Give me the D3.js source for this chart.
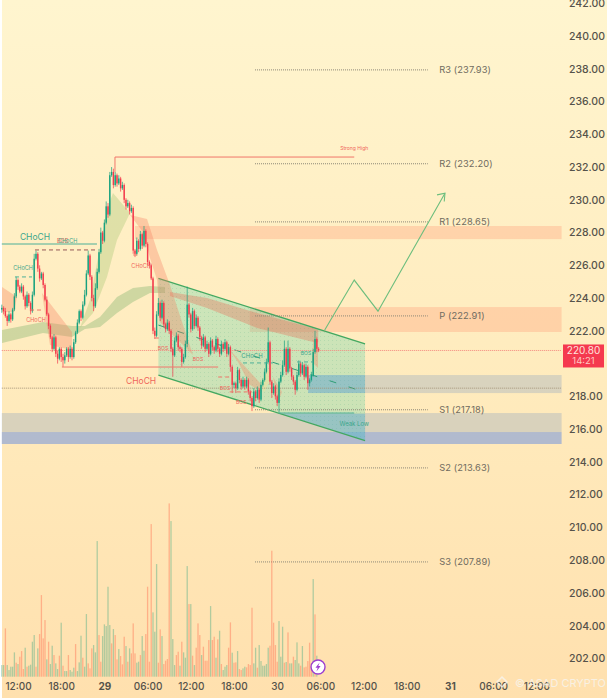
<!DOCTYPE html>
<html>
<head>
<meta charset="utf-8">
<script src="https://cdn.jsdelivr.net/npm/d3@7"></script>
<style>
  html, body { margin: 0; padding: 0; background: #fff; }
  text { font-family: Inter, "Liberation Sans", sans-serif; }
</style>
</head>
<body>
<svg id="chart" width="611" height="700"></svg>
<script>
const WIDTH = 611;
const HEIGHT = 700;

// time is in hours after 12:00 on the 28th, bars are 15 minutes apart
const FIRST_BAR_HOUR = -2.25;
const BAR_HOURS = 0.25;

// 220.00 sits behind the live price tag in the picture
const priceTicks = d3.range(202, 243, 2).filter(d => d !== 220);
const timeTicks = [0, 6, 12, 18, 24, 30, 36, 42, 48, 54, 60, 66, 72];
const timeLabels = ['12:00', '18:00', '29', '06:00', '12:00', '18:00', '30', '06:00', '12:00', '18:00', '31', '06:00', '12:00'];
const boldTimeLabels = ['29', '31'];

const firstOpen = 223.3;
const closes = [
  223.4, 223.2, 222.9, 222.6, 223.0, 222.7, 223.3, 224.1, 225.1, 224.7,
  224.4, 224.7, 224.1, 223.5, 224.2, 223.7, 223.2, 224.2, 226.4, 226.7,
  225.8, 225.2, 225.5, 224.8, 223.9, 223.0, 222.3, 221.6, 220.9, 221.6,
  220.6, 220.3, 220.9, 220.4, 220.2, 220.5, 220.9, 220.4, 220.9, 220.4,
  221.3, 221.9, 222.5, 223.2, 222.8, 223.6, 224.2, 225.5, 226.6, 225.3,
  224.0, 223.5, 224.6, 225.6, 226.8, 228.0, 227.5, 228.6, 229.6, 229.1,
  231.5, 231.7, 230.9, 231.5, 231.0, 231.3, 230.7, 230.9, 230.0, 229.6,
  229.8, 229.3, 229.5, 226.9, 226.7, 227.5, 227.0, 227.9, 227.2, 228.1,
  227.3, 226.2, 226.0, 225.2, 222.0, 221.7, 223.0, 223.7, 222.8, 223.7,
  222.4, 222.1, 222.5, 222.0, 220.9, 220.5, 221.4, 221.7, 221.0, 220.9,
  220.1, 220.4, 221.2, 223.6, 223.0, 222.1, 223.2, 222.3, 222.8, 222.2,
  221.6, 221.1, 221.6, 220.9, 221.2, 220.6, 221.4, 221.0, 220.8, 221.5,
  220.9, 220.6, 221.2, 220.9, 221.3, 220.6, 221.0, 219.8, 218.7, 218.8,
  218.5, 219.6, 219.0, 218.6, 219.0, 218.6, 219.0, 218.3, 217.9, 217.4,
  218.3, 217.9, 218.4, 217.8, 218.7, 219.0, 219.5, 220.1, 221.3, 218.9,
  218.2, 218.6, 218.0, 217.6, 218.9, 219.3, 219.9, 220.9, 219.5, 220.9,
  219.7, 219.2, 218.9, 218.4, 219.3, 220.0, 219.4, 219.9, 219.2, 219.8,
  218.8, 219.0, 219.3, 220.7, 221.5, 220.9, 220.8
];
const wickUp = [
  .2, .1, .2, .1, .2, .1, .1, .2, .2, .1,
  .1, .2, .1, .1, .2, .1, .1, .2, .3, .2,
  .1, .2, .1, .1, .1, .2, .1, .1, .1, .2,
  .1, .2, .1, .1, .2, .2, .1, .1, .2, .1,
  .2, .1, .2, .1, .1, .2, .3, .2, .3, .1,
  .1, .2, .3, .2, .2, .3, .1, .2, .3, .2,
  .2, .3, .2, .2, .1, .2, .1, .2, .1, .1,
  .2, .1, .2, .1, .1, .2, .1, .2, .1, .3,
  .1, .1, .1, .1, .1, .2, .2, .3, .1, .2,
  .1, .1, .2, .1, .1, .1, .2, .2, .1, .1,
  .1, .2, .2, 1.1, .1, .1, .2, .1, .2, .1,
  .1, .1, .2, .1, .2, .1, .2, .1, .1, .2,
  .1, .1, .2, .1, .2, .1, .2, .1, .1, .1,
  .1, .2, .1, .1, .2, .1, .2, .1, .1, .1,
  .2, .1, .2, .1, .2, .1, .2, .2, .9, .1,
  .1, .2, .1, .1, .2, .2, .3, .5, .1, .5,
  .1, .1, .1, .1, .2, .2, .1, .2, .1, .2,
  .1, .1, .2, .2, .5, .1, .1
];
const wickDown = [
  .2, .2, .1, .3, .1, .2, .1, .1, .1, .2,
  .1, .1, .2, .2, .1, .2, .2, .1, .1, .1,
  .2, .2, .1, .2, .1, .1, .2, .1, .2, .1,
  .2, .3, .1, .3, .4, .2, .1, .3, .1, .2,
  .1, .1, .1, .1, .2, .1, .1, .1, .1, .2,
  .2, .3, .1, .1, .1, .1, .2, .1, .1, .2,
  .1, .1, .2, .1, .2, .1, .2, .1, .2, .2,
  .1, .2, .1, .2, .2, .1, .2, .1, .2, .1,
  .2, .2, .2, .1, .2, .2, .1, .1, .2, .1,
  .2, .2, .1, .2, .2, 1.3, .1, .1, .2, .2,
  .3, .1, .1, .2, .2, .2, .1, .2, .1, .2,
  .2, .2, .1, .2, .1, .2, .1, .2, .2, .1,
  .2, .2, .1, .2, .1, .2, .1, .3, .5, .2,
  .3, .1, .2, .2, .1, .2, .1, .2, .2, .3,
  .1, .2, .1, .2, .1, .1, .1, .1, .1, .2,
  .3, .1, .2, .2, .6, .1, .1, .1, .2, .1,
  .2, .2, .2, .3, .1, .1, .2, .1, .2, .1,
  .4, .2, .1, .1, .1, .2, .1
];

// positive bars are green, negative bars are red
const volumes = [
  35, 35, -145, 35, 20, 30, 30, 73, -42, 38, -60, -77, -23, 87, -30, 33, 36, 105, 125, -30,
  85, -128, -245, -115, -170, 52, -105, 38, 93, -65, 40, 23, -63, 162, -33, 17, 17, -65, 20, 15,
  27, -98, 17, 43, 123, -57, 30, 188, -40, -25, -85, 95, 73, 407, -125, -45, 122, 157, 152, 270,
  155, -100, 143, -125, -52, 83, -62, -37, -120, 92, -45, 85, -70, -160, -70, 42, 45, -65, 122, 78,
  -128, -270, -45, -458, 193, 135, 338, -42, -142, 122, -38, -48, -53, -520, 467, 113, 35, -65, -75, 33,
  -105, 73, 57, 332, -218, 218, -63, 35, -87, -160, -125, 65, -90, -48, -48, -110, 212, -110, -120, 57,
  -112, 138, -38, 20, 30, 35, -87, -163, 72, -42, -43, 77, -23, -20, 25, 30, -28, -38, -35, -207,
  40, 87, -27, 95, 47, 33, 33, 38, 87, -93, -378, -162, -95, -45, 167, 60, 150, -42, 44, -133,
  40, 40, -60, 50, 103, 40, -33, 92, -28, -30, -47, -102, -40, 293, -187, 63
];

const lastPrice = 220.80;
const countdown = '14:21';
const refLevel = 218.5;

const pivots = [
  ['R3 (237.93)', 237.93], ['R2 (232.20)', 232.20], ['R1 (228.65)', 228.65], ['P (222.91)', 222.91],
  ['S1 (217.18)', 217.18], ['S2 (213.63)', 213.63], ['S3 (207.89)', 207.89]
];
const pivotHours = [32.92, 56.92];
const pivotLabelHour = 58.5;

// zones as [from hour, to hour, top price, bottom price, kind]
const zones = [
  [16.25, 75.5, 228.4, 227.6, 'supply'],
  [32.2, 75.5, 223.45, 221.93, 'supply'],
  [40.3, 75.5, 219.3, 218.2, 'neutral'],
  [-2.25, 75.5, 216.98, 215.82, 'neutral'],
  [-2.25, 75.5, 215.82, 215.09, 'blue']
];

const channelTop = [[19.5, 225.2], [48.2, 221.2]];
const channelBottom = [[19.5, 219.3], [48.2, 215.3]];
const channelMid = [[19.5, 222.35], [48.2, 218.25]];
const channelBlueBox = [[40.3, 219.3], [48.2, 219.3], [48.2, 218.2], [40.3, 218.2]];
const channelBlueWedge = [[36.4, 216.92], [48.2, 216.92], [48.2, 215.3]];

const projection = [[42.6, 222.05], [46.7, 225.1], [50, 223.2], [59.3, 230.4]];
const arrowHead = [[58.2, 230.3], [59.3, 230.4], [59.2, 229.9]];

const ribbonGreen = [
  [-2.22, 222.05], [3.47, 222.54], [7.5, 222.3], [9.3, 222.3], [11.39, 222.84], [13.75, 224.07], [15.97, 224.62], [18.33, 224.74], [20.42, 224.68],
  [20.42, 224.31], [18.33, 224.31], [15.97, 223.76], [13.75, 223.09], [11.39, 222.23], [9.3, 222.11], [7.5, 221.62], [3.47, 221.87], [-2.22, 221.26]
];
const ribbonRed = [
  [21.1, 224.37], [26.25, 224], [33.2, 223.09], [41, 222.17], [41.7, 222.05],
  [41.7, 221.3], [41, 221.32], [33.2, 222.17], [26.25, 223.39], [21.1, 224.13]
];
const cloudGreen = [
  [8.6, 222.17], [10, 223.88], [10.97, 226.14], [12.36, 229.38], [13.19, 230.42], [15.56, 229.19],
  [13.75, 227.55], [12.36, 225.29], [10.42, 223.09]
];
const cloudsRed = [
  [[15.56, 229.07], [17.92, 228.83], [19.31, 226.94], [21.11, 224.8], [22.92, 222.36], [24.31, 220.53], [21.8, 221.6], [19.72, 222.54], [19.31, 225.1], [18.33, 226.45], [17.36, 228.03]],
  [[-2.22, 224.68], [-0.14, 224.07], [-0.56, 223.15], [-2.22, 223.15]],
  [[3.33, 224.31], [7.5, 221.93], [7.5, 220.83], [4.44, 221.14], [3.89, 222.66]],
  [[29.17, 220.95], [33.61, 218.82], [33.9, 218.27], [32.2, 218.7], [30.56, 220.1]],
  [[35.42, 219.18], [36.67, 218.27], [36.1, 217.65]],
  [[41, 221.44], [41.67, 221.44], [41.67, 219.73], [40.83, 220.1]]
];
const cloudPale = [[33.61, 218.82], [35.42, 220.04], [35, 219], [34.17, 218.27]];

// structure lines as [points, colour kind, dashed]
const structureLines = [
  [[[-2.25, 227.3], [10.97, 227.3]], 'teal', false],
  [[[2.36, 226.94], [10.97, 226.94]], 'teal', true],
  [[[2.36, 226.94], [10.97, 226.94]], 'red', true],
  [[[-0.42, 225.29], [1.94, 225.29]], 'teal', true],
  [[[1.67, 223.27], [3.33, 223.27]], 'red', true],
  [[[6.1, 219.79], [27.8, 219.79]], 'red', false],
  [[[13.47, 231.7], [13.47, 232.61], [46.7, 232.61]], 'red', false],
  [[[16, 226.63], [16.67, 226.63]], 'red', true],
  [[[19, 221.56], [20, 221.56]], 'red', true],
  [[[27.8, 219.18], [29.4, 219.18]], 'red', true],
  [[[29.4, 218.27], [32.5, 218.27]], 'red', true],
  [[[31.25, 220.04], [35.4, 220.04]], 'teal', true],
  [[[38.75, 220.1], [41, 220.1]], 'teal', true],
  [[[36.25, 216.98], [46.7, 216.98]], 'teal', false]
];

// notes as [text, hour, price, colour kind, font size]
const notes = [
  ['CHoCH', 2.36, 227.75, 'teal', 8.5],
  ['BOS', 6.2, 227.48, 'red', 5.5],
  ['CHoCH', 6.9, 227.46, 'teal', 5.5],
  ['CHoCH', 0.7, 225.84, 'teal', 5.5],
  ['CHoCH', 2.5, 222.66, 'red', 5.5],
  ['CHoCH', 17.1, 225.96, 'red', 5.5],
  ['CHoCH', 17.1, 218.94, 'red', 8.5],
  ['BOS', 20.14, 220.95, 'red', 5],
  ['BOS', 25, 220.28, 'red', 5],
  ['BOS', 28.75, 218.51, 'red', 5],
  ['BOS', 31, 217.66, 'red', 5],
  ['BOS', 40, 220.65, 'teal', 5],
  ['CHoCH', 32.5, 220.52, 'teal', 6],
  ['Weak Low', 46.7, 216.37, 'teal', 6],
  ['Strong High', 46.7, 233.16, 'red', 5]
];

const noteColours = { teal: '#3BA68C', red: '#F0655A' };
const lineColours = { teal: '#4DAF98', red: '#F0766A' };
const zoneColours = {
  supply: 'rgba(255, 140, 105, 0.28)',
  neutral: 'rgba(150, 170, 190, 0.36)',
  blue: 'rgba(100, 140, 225, 0.5)'
};

const x = d3.scaleLinear().domain([0, 72]).range([18, 536.4]);
const y = d3.scaleLinear().domain([202, 240]).range([658.4, 36]);
const volumeY = d3.scaleLinear().domain([0, 520]).range([676.7, 503.4]);

const svg = d3.select('#chart');
const defs = svg.append('defs');

const background = defs.append('linearGradient')
  .attr('id', 'paper').attr('x1', 0).attr('y1', 0).attr('x2', 0).attr('y2', 1);
background.append('stop').attr('offset', '0%').attr('stop-color', '#FFF5CF');
background.append('stop').attr('offset', '55%').attr('stop-color', '#FFEBBD');
background.append('stop').attr('offset', '100%').attr('stop-color', '#FFE0AE');

const dots = defs.append('pattern')
  .attr('id', 'dots').attr('width', 4).attr('height', 4).attr('patternUnits', 'userSpaceOnUse');
dots.append('rect').attr('width', 1).attr('height', 1).attr('fill', 'rgba(40, 150, 110, 0.14)');

svg.append('rect').attr('x', 2).attr('y', 0).attr('width', 605).attr('height', 698).attr('fill', 'url(#paper)');

const polyLine = d3.line().x(d => x(d[0])).y(d => y(d[1]));
const polygon = pts => polyLine(pts) + 'Z';

function drawZones() {
  svg.append('g').selectAll('rect').data(zones).enter().append('rect')
    .attr('x', d => x(d[0]))
    .attr('width', d => x(d[1]) - x(d[0]))
    .attr('y', d => y(d[2]))
    .attr('height', d => y(d[3]) - y(d[2]))
    .attr('fill', d => zoneColours[d[4]]);
}

function drawClouds() {
  const g = svg.append('g');
  g.append('path').attr('d', polygon(ribbonGreen)).attr('fill', 'rgba(130, 180, 110, 0.38)');
  g.append('path').attr('d', polygon(cloudGreen)).attr('fill', 'rgba(160, 195, 110, 0.34)');
  g.append('path').attr('d', polygon(cloudPale)).attr('fill', 'rgba(230, 225, 160, 0.7)');
  g.selectAll('.red').data(cloudsRed).enter().append('path')
    .attr('d', polygon).attr('fill', 'rgba(245, 125, 95, 0.33)');
}

function drawChannel() {
  const outline = channelTop.concat(channelBottom.slice().reverse());
  const g = svg.append('g');
  g.append('path').attr('d', polygon(outline)).attr('fill', 'rgba(95, 210, 170, 0.32)');
  g.append('path').attr('d', polygon(outline)).attr('fill', 'url(#dots)');
  g.append('path').attr('d', polygon(channelBlueBox)).attr('fill', 'rgba(85, 160, 225, 0.3)');
  g.append('path').attr('d', polygon(channelBlueWedge)).attr('fill', 'rgba(85, 160, 225, 0.28)');
  g.append('path').attr('d', polygon(ribbonRed)).attr('fill', 'rgba(235, 105, 85, 0.34)');
  [channelTop, channelBottom].forEach(function(side) {
    g.append('path').attr('d', polyLine(side)).attr('fill', 'none')
      .attr('stroke', '#43A860').attr('stroke-width', 1.3);
  });
  g.append('path').attr('d', polyLine(channelMid)).attr('fill', 'none')
    .attr('stroke', '#2E9E76').attr('stroke-width', 1).attr('stroke-dasharray', '7 13');
}

function drawLevels() {
  const g = svg.append('g');
  g.selectAll('line').data(pivots).enter().append('line')
    .attr('x1', x(pivotHours[0])).attr('x2', x(pivotHours[1]))
    .attr('y1', d => y(d[1])).attr('y2', d => y(d[1]))
    .attr('stroke', '#8C8777').attr('stroke-width', 1).attr('stroke-dasharray', '1 1');
  g.selectAll('text').data(pivots).enter().append('text')
    .attr('x', x(pivotLabelHour)).attr('y', d => y(d[1]) + 3.5)
    .attr('font-size', 9.3).attr('fill', '#6F6B60').attr('letter-spacing', 0.1)
    .text(d => d[0]);
  g.append('line')
    .attr('x1', x(-2.25)).attr('x2', x(75.5)).attr('y1', y(refLevel)).attr('y2', y(refLevel))
    .attr('stroke', '#A5967A').attr('stroke-dasharray', '1 1');
  g.append('line')
    .attr('x1', x(-2.25)).attr('x2', x(75.5)).attr('y1', y(lastPrice)).attr('y2', y(lastPrice))
    .attr('stroke', '#F4877E').attr('stroke-dasharray', '1 1');
}

function drawVolumes() {
  svg.append('g').selectAll('rect').data(volumes).enter().append('rect')
    .attr('x', (d, i) => x(FIRST_BAR_HOUR + i * BAR_HOURS) - 0.65)
    .attr('width', 1.3)
    .attr('y', d => volumeY(Math.abs(d)))
    .attr('height', d => volumeY(0) - volumeY(Math.abs(d)))
    .attr('fill', d => d > 0 ? 'rgba(70, 170, 130, 0.42)' : 'rgba(255, 115, 85, 0.46)');
}

function drawCandles() {
  const bars = closes.map(function(close, i) {
    const open = i === 0 ? firstOpen : closes[i - 1];
    return {
      hour: FIRST_BAR_HOUR + i * BAR_HOURS,
      open: open,
      close: close,
      high: Math.max(open, close) + wickUp[i],
      low: Math.min(open, close) - wickDown[i]
    };
  });
  const colour = d => d.close >= d.open ? '#17A17F' : '#F23A4C';
  const g = svg.append('g');
  g.selectAll('line').data(bars).enter().append('line')
    .attr('x1', d => x(d.hour)).attr('x2', d => x(d.hour))
    .attr('y1', d => y(d.high)).attr('y2', d => y(d.low))
    .attr('stroke', colour).attr('stroke-width', 0.7);
  g.selectAll('rect').data(bars).enter().append('rect')
    .attr('x', d => x(d.hour) - 0.7)
    .attr('width', 1.4)
    .attr('y', d => y(Math.max(d.open, d.close)))
    .attr('height', d => Math.max(0.8, Math.abs(y(d.open) - y(d.close))))
    .attr('fill', colour);
}

function drawStructure() {
  const g = svg.append('g');
  g.selectAll('path').data(structureLines).enter().append('path')
    .attr('d', d => polyLine(d[0]))
    .attr('fill', 'none')
    .attr('stroke', d => lineColours[d[1]])
    .attr('stroke-width', 1)
    .attr('stroke-dasharray', d => d[2] ? '4 3' : null);
  g.selectAll('text').data(notes).enter().append('text')
    .attr('x', d => x(d[1])).attr('y', d => y(d[2]))
    .attr('text-anchor', 'middle').attr('dominant-baseline', 'central')
    .attr('font-size', d => d[4])
    .attr('fill', d => noteColours[d[3]])
    .text(d => d[0]);
  [projection, arrowHead].forEach(function(pts) {
    g.append('path').attr('d', polyLine(pts)).attr('fill', 'none')
      .attr('stroke', '#6DBE7E').attr('stroke-width', 1.1);
  });
}

function drawAxes() {
  const yAxis = d3.axisRight(y).tickValues(priceTicks).tickSize(0).tickPadding(0).tickFormat(d3.format('.2f'));
  const yGroup = svg.append('g').attr('transform', 'translate(569,0)').call(yAxis);
  yGroup.select('.domain').remove();
  yGroup.selectAll('text')
    .style('font-family', 'Inter, "Liberation Sans", sans-serif')
    .attr('font-size', 10.5).attr('font-weight', 500).attr('fill', '#55524A');

  const xAxis = d3.axisBottom(x).tickValues(timeTicks).tickSize(0).tickPadding(0)
    .tickFormat((d, i) => timeLabels[i]);
  const xGroup = svg.append('g').attr('transform', 'translate(0,683)').call(xAxis);
  xGroup.select('.domain').remove();
  xGroup.selectAll('text')
    .style('font-family', 'Inter, "Liberation Sans", sans-serif')
    .attr('font-size', 10).attr('fill', '#55524A')
    .attr('font-weight', (d, i) => boldTimeLabels.includes(timeLabels[i]) ? 700 : 500);
}

function drawPriceTag() {
  const g = svg.append('g').attr('transform', `translate(563,${y(lastPrice) - 6})`);
  g.append('rect').attr('width', 41).attr('height', 23).attr('fill', '#F5394F');
  g.append('text').attr('x', 20.5).attr('y', 9.5).attr('text-anchor', 'middle')
    .attr('font-size', 10).attr('fill', '#FFE3DC').text(lastPrice.toFixed(2));
  g.append('text').attr('x', 20.5).attr('y', 20).attr('text-anchor', 'middle')
    .attr('font-size', 9.5).attr('fill', '#FFC9C2').text(countdown);
}

function drawBadgeAndMark() {
  const badge = svg.append('g').attr('transform', `translate(${x(41.67)},667)`);
  badge.append('circle').attr('r', 7).attr('fill', '#FFF').attr('stroke', '#9C3FD0').attr('stroke-width', 1.4);
  badge.append('path').attr('d', 'M1.6,-4.6 L-2.6,0.8 L-0.3,0.8 L-1.6,4.6 L2.6,-1 L0.3,-1 Z').attr('fill', '#9C3FD0');

  const mark = svg.append('g').attr('fill', '#F7F5F0').attr('opacity', 0.8);
  mark.append('path').attr('d', 'M502,677 l5,5 l-5,5 l-5,-5 Z').attr('fill', 'none').attr('stroke', '#F7F5F0').attr('stroke-width', 1.5);
  mark.append('text').attr('x', 515).attr('y', 687).attr('font-size', 11).text('© ASAD CRYPTO');
}

drawZones();
drawChannel();
drawClouds();
drawLevels();
drawVolumes();
drawCandles();
drawStructure();
drawAxes();
drawPriceTag();
drawBadgeAndMark();
</script>
</body>
</html>
